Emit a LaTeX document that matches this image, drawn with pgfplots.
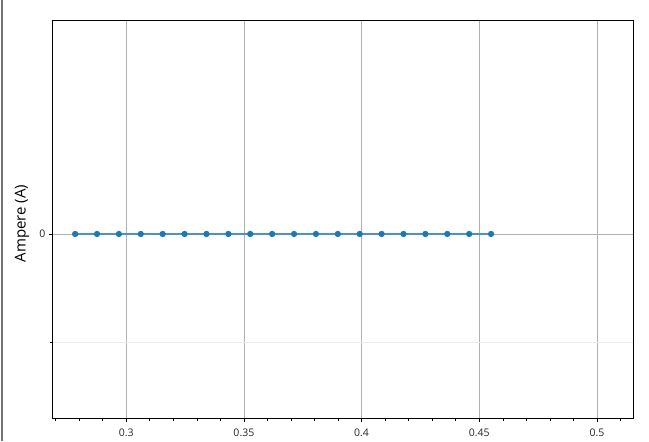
\documentclass[border=0pt]{standalone}
\usepackage{pgfplots}
\pgfplotsset{compat=1.18}
\usepackage{fontspec}
\setmainfont{Open Sans}
\definecolor{series}{HTML}{1F77B4}
\definecolor{gridc}{HTML}{B0B0B0}
\begin{document}
\begin{tikzpicture}
\begin{axis}[
  name=ax,
  scale only axis,
  width=580bp, height=397bp,
  xmin=0.2689, xmax=0.5153,
  ymin=-0.852, ymax=0.986,
  xtick={0.3,0.35,0.4,0.45,0.5},
  xticklabels={0.3,0.35,0.4,0.45,0.5},
  minor xtick={0.27,0.28,0.29,0.31,0.32,0.33,0.34,0.36,0.37,0.38,0.39,0.41,0.42,0.43,0.44,0.46,0.47,0.48,0.49,0.51},
  ytick={0},
  yticklabels={0},
  minor ytick={-0.5},
  tick align=outside,
  major tick length=4bp,
  minor tick length=3bp,
  every tick/.style={black, line width=0.6bp},
  xtick pos=bottom, ytick pos=left,
  xmajorgrids, ymajorgrids, yminorgrids,
  major grid style={gridc, line width=0.8bp},
  minor grid style={black!8, line width=0.8bp},
  axis line style={black, line width=1bp},
  tick label style={font=\fontsize{10.5bp}{12bp}\selectfont, text=black!85},
  /pgf/number format/assume math mode=true,
  xticklabel style={yshift=-3bp},
  ylabel={Ampere (A)},
  ylabel style={at={(rel axis cs:0,0.49)}, anchor=center, yshift=31bp, font=\fontsize{15bp}{17bp}\selectfont},
]
\addplot[color=series!80, line width=1.4bp, mark=*, mark size=2.4bp, mark options={fill=series, draw=series}] coordinates {
(0.2783,0) (0.2876,0) (0.2969,0) (0.3062,0) (0.3155,0) (0.3248,0) (0.3341,0) (0.3434,0) (0.3527,0) (0.3620,0)
(0.3713,0) (0.3806,0) (0.3899,0) (0.3992,0) (0.4085,0) (0.4178,0) (0.4271,0) (0.4364,0) (0.4457,0) (0.4550,0)
};
\end{axis}
\draw[black!55, line width=1.2bp] ([xshift=-51bp,yshift=-23bp]ax.south west) -- ([xshift=-51bp,yshift=21bp]ax.north west);
\pgfresetboundingbox
\path[use as bounding box] ([xshift=-53bp,yshift=-23bp]ax.south west) rectangle ([xshift=16bp,yshift=21bp]ax.north east);
\end{tikzpicture}
\end{document}
